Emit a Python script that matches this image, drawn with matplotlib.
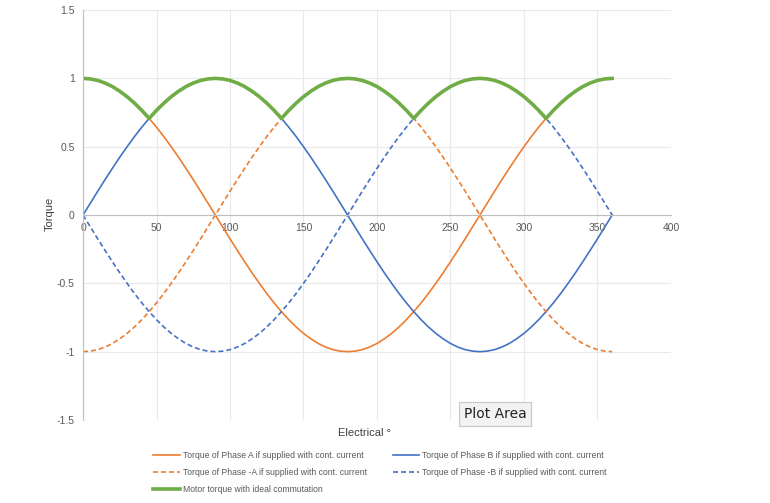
""" Torque of the two motor phases over one electrical revolution """

import matplotlib
matplotlib.use("Agg")
import matplotlib.pyplot as plt
from matplotlib import font_manager

# Electrical angle in degrees (5 deg steps)
angle = list(range(0, 365, 5))

# Torque of phase A
phase_a = [1.0, 0.996, 0.985, 0.966, 0.94, 0.906, 0.866, 0.819, 0.766, 0.707,
           0.643, 0.574, 0.5, 0.423, 0.342, 0.259, 0.174, 0.087, 0.0,
           -0.087, -0.174, -0.259, -0.342, -0.423, -0.5, -0.574, -0.643, -0.707,
           -0.766, -0.819, -0.866, -0.906, -0.94, -0.966, -0.985, -0.996, -1.0,
           -0.996, -0.985, -0.966, -0.94, -0.906, -0.866, -0.819, -0.766, -0.707,
           -0.643, -0.574, -0.5, -0.423, -0.342, -0.259, -0.174, -0.087, 0.0,
           0.087, 0.174, 0.259, 0.342, 0.423, 0.5, 0.574, 0.643, 0.707,
           0.766, 0.819, 0.866, 0.906, 0.94, 0.966, 0.985, 0.996, 1.0]

# Torque of phase B
phase_b = [0.0, 0.087, 0.174, 0.259, 0.342, 0.423, 0.5, 0.574, 0.643, 0.707,
           0.766, 0.819, 0.866, 0.906, 0.94, 0.966, 0.985, 0.996, 1.0,
           0.996, 0.985, 0.966, 0.94, 0.906, 0.866, 0.819, 0.766, 0.707,
           0.643, 0.574, 0.5, 0.423, 0.342, 0.259, 0.174, 0.087, 0.0,
           -0.087, -0.174, -0.259, -0.342, -0.423, -0.5, -0.574, -0.643, -0.707,
           -0.766, -0.819, -0.866, -0.906, -0.94, -0.966, -0.985, -0.996, -1.0,
           -0.996, -0.985, -0.966, -0.94, -0.906, -0.866, -0.819, -0.766, -0.707,
           -0.643, -0.574, -0.5, -0.423, -0.342, -0.259, -0.174, -0.087, 0.0]

# Inverted phases and the commutated motor torque
phase_neg_a = [-v for v in phase_a]
phase_neg_b = [-v for v in phase_b]
motor = [max(abs(a), abs(b)) for a, b in zip(phase_a, phase_b)]

x_ticks = [0, 50, 100, 150, 200, 250, 300, 350, 400]
y_ticks = [-1.5, -1, -0.5, 0, 0.5, 1, 1.5]
y_tick_labels = ["-1.5", "-1", "-0.5", "0", "0.5", "1", "1.5"]

ORANGE = "#ED7D31"
BLUE = "#4472C4"
GREEN = "#70AD47"
TXT = "#595959"

# Narrow font to get close to the Calibri look of the original
names = {f.name for f in font_manager.fontManager.ttflist}
NARROW = "Liberation Sans Narrow" if "Liberation Sans Narrow" in names else "Liberation Sans"
plt.rcParams['font.family'] = [NARROW, "DejaVu Sans"]

fig = plt.figure(figsize=(7.7, 5.03), dpi=100)
ax = fig.add_axes([0.1078, 0.165, 0.7636, 0.815])

la, = ax.plot(angle, phase_a, color=ORANGE, lw=1.2,
              label="Torque of Phase A if supplied with cont. current")
lb, = ax.plot(angle, phase_b, color=BLUE, lw=1.2,
              label="Torque of Phase B if supplied with cont. current")
lna, = ax.plot(angle, phase_neg_a, color=ORANGE, lw=1.2, ls=(0, (3, 1.8)),
               label="Torque of Phase -A if supplied with cont. current")
lnb, = ax.plot(angle, phase_neg_b, color=BLUE, lw=1.2, ls=(0, (3, 1.8)),
               label="Torque of Phase -B if supplied with cont. current")
lm, = ax.plot(angle, motor, color=GREEN, lw=2.6,
              label="Motor torque with ideal commutation")

ax.set_xlim(0, 400)
ax.set_ylim(-1.5, 1.5)
ax.set_xticks(x_ticks)
ax.set_yticks(y_ticks)
ax.set_yticklabels(y_tick_labels)
ax.grid(True, color="#E9E9E9", lw=0.8)
ax.set_axisbelow(True)

for s in ["top", "right"]:
    ax.spines[s].set_visible(False)
ax.spines["left"].set_color("#BFBFBF")
ax.spines["bottom"].set_color("#BFBFBF")
ax.spines["bottom"].set_position(("data", 0))
ax.tick_params(length=0, labelsize=7.5, colors=TXT, pad=6)

fig.text(0.064, 0.575, "Torque", rotation=90, fontsize=8, color="#404040",
         ha="center", va="center")
fig.text(0.474, 0.140, "Electrical °", fontsize=8, color="#404040",
         ha="center", va="center")

fig.legend(handles=[la, lna, lm, lb, lnb], ncol=2, loc="upper left",
           bbox_to_anchor=(0.199, 0.104), frameon=False, fontsize=6.2,
           labelcolor=TXT, handlelength=3.1, handletextpad=0.35,
           columnspacing=3.0, labelspacing=0.95, borderaxespad=0,
           borderpad=0)

# Excel hover tooltip seen in the screenshot
fig.text(0.643, 0.177, "Plot Area", fontsize=10, color="#222222",
         family="DejaVu Sans", ha="center", va="center",
         bbox=dict(boxstyle="square,pad=0.35", fc="#F2F2F2", ec="#C8C8C8", lw=0.8))

fig.savefig("out.png", dpi=100)
